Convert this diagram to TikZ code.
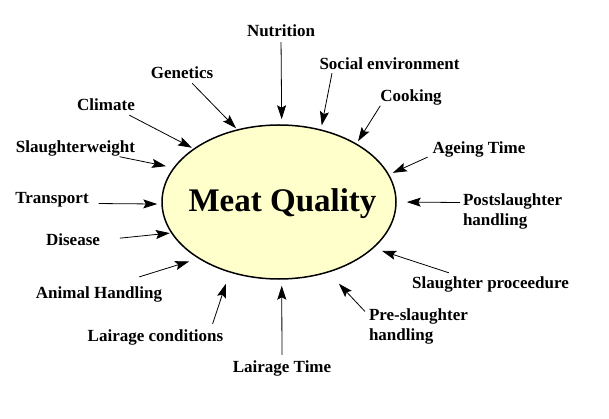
\documentclass[tikz,border=0pt]{standalone}
\usepackage{fontspec}
\setmainfont{Liberation Serif}
\usetikzlibrary{shapes.geometric,arrows.meta}
\definecolor{mqfill}{RGB}{255,255,204}

\begin{document}
\begin{tikzpicture}[x=1pt, y=-1pt]
%% coordinates are in points, measured from the top left corner (y grows downwards)
%% the ends of the arrows are set by the anchor angles and the shorten values
\tikzstyle{arc}=[-{Stealth[length=14pt,width=9pt,inset=2.5pt]},line width=0.8pt]
\tikzstyle{factor}=[inner sep=0pt,outer sep=0pt,anchor=base,font=\bfseries\fontsize{17}{20}\selectfont]
\tikzstyle{twoline}=[factor,anchor=north west,align=left]
\tikzstyle{quality}=[ellipse,draw,line width=1.5pt,fill=mqfill,minimum width=234pt,minimum height=154pt,inner sep=0pt]
\useasboundingbox (0,0) rectangle (609,419);
%% TikZ-figure elements %%
\node[quality] at (279,202) (MQ) {};
\node[anchor=base,font=\bfseries\fontsize{33}{40}\selectfont] at (282.5,212) (MQtext) {Meat Quality};
%% label for factor Nutrition
\node[factor] at (281,37) (Nutrition) {Nutrition};
%% label for factor Genetics
\node[factor] at (182,79) (Genetics) {Genetics};
%% label for factor Climate
\node[factor] at (106,111) (Climate) {Climate};
%% label for factor Slaughterweight
\node[factor] at (75.5,153) (Slaughterweight) {Slaughterweight};
%% label for factor Transport
\node[factor] at (52,204) (Transport) {Transport};
%% label for factor Disease
\node[factor] at (73,246) (Disease) {Disease};
%% label for factor AnimalHandling
\node[factor] at (99,298) (AnimalHandling) {Animal Handling};
%% label for factor LairageConditions
\node[factor] at (155.5,341) (LairageConditions) {Lairage conditions};
%% label for factor LairageTime
\node[factor] at (282,372) (LairageTime) {Lairage Time};
%% label for factor PreSlaughter
\node[twoline] at (369,308.5) (PreSlaughter) {Pre-slaughter\\handling};
%% label for factor SlaughterProc
\node[factor] at (490.5,288) (SlaughterProc) {Slaughter proceedure};
%% label for factor PostSlaughter
\node[twoline] at (463,193.5) (PostSlaughter) {Postslaughter\\handling};
%% label for factor AgeingTime
\node[factor] at (479,154) (AgeingTime) {Ageing Time};
%% label for factor Cooking
\node[factor] at (411,102) (Cooking) {Cooking};
%% label for factor SocialEnv
\node[factor] at (389.5,70) (SocialEnv) {Social environment};
%% arrows from the factors to Meat Quality
\draw[arc,shorten <=5pt,shorten >=5pt] (Nutrition.south) to[bend right=0] (MQ.88);
\draw[arc,shorten <=5.6pt,shorten >=1.5pt] (Genetics.-44) to[bend right=0] (MQ.120);
\draw[arc,shorten <=8.7pt,shorten >=1.7pt] (Climate.-21) to[bend right=0] (MQ.148);
\draw[arc,shorten >=7.5pt] (Slaughterweight.-10) to[bend right=0] (MQ.162);
\draw[arc,shorten <=10pt,shorten >=4pt] (Transport.-5) to[bend right=0] (MQ.181);
\draw[arc,shorten <=20pt,shorten >=1.2pt] (Disease.east) to[bend right=0] (MQ.196);
\draw[arc,shorten <=31.4pt,shorten >=9.5pt] (AnimalHandling.37) to[bend right=0] (MQ.215);
\draw[arc,shorten <=5.7pt,shorten >=11.8pt] (LairageConditions.8) to[bend right=0] (MQ.235);
\draw[arc,shorten <=5.4pt,shorten >=6pt] (LairageTime.north) to[bend right=0] (MQ.272);
\draw[arc,shorten <=5.9pt,shorten >=15.3pt] (PreSlaughter.168) to[bend right=0] (MQ.305);
\draw[arc,shorten <=11pt,shorten >=8.8pt] (SlaughterProc.166) to[bend right=0] (MQ.334);
\draw[arc,shorten <=3pt,shorten >=10pt] (PostSlaughter.170) to[bend right=0] (MQ.east);
\draw[arc,shorten <=5.5pt,shorten >=4pt] (AgeingTime.186) to[bend right=0] (MQ.14);
\draw[arc,shorten >=2.7pt] (Cooking.south west) to[bend right=0] (MQ.37);
\draw[arc,shorten <=3pt,shorten >=4pt] (SocialEnv.186) to[bend right=0] (MQ.60);
\end{tikzpicture}
\end{document}
